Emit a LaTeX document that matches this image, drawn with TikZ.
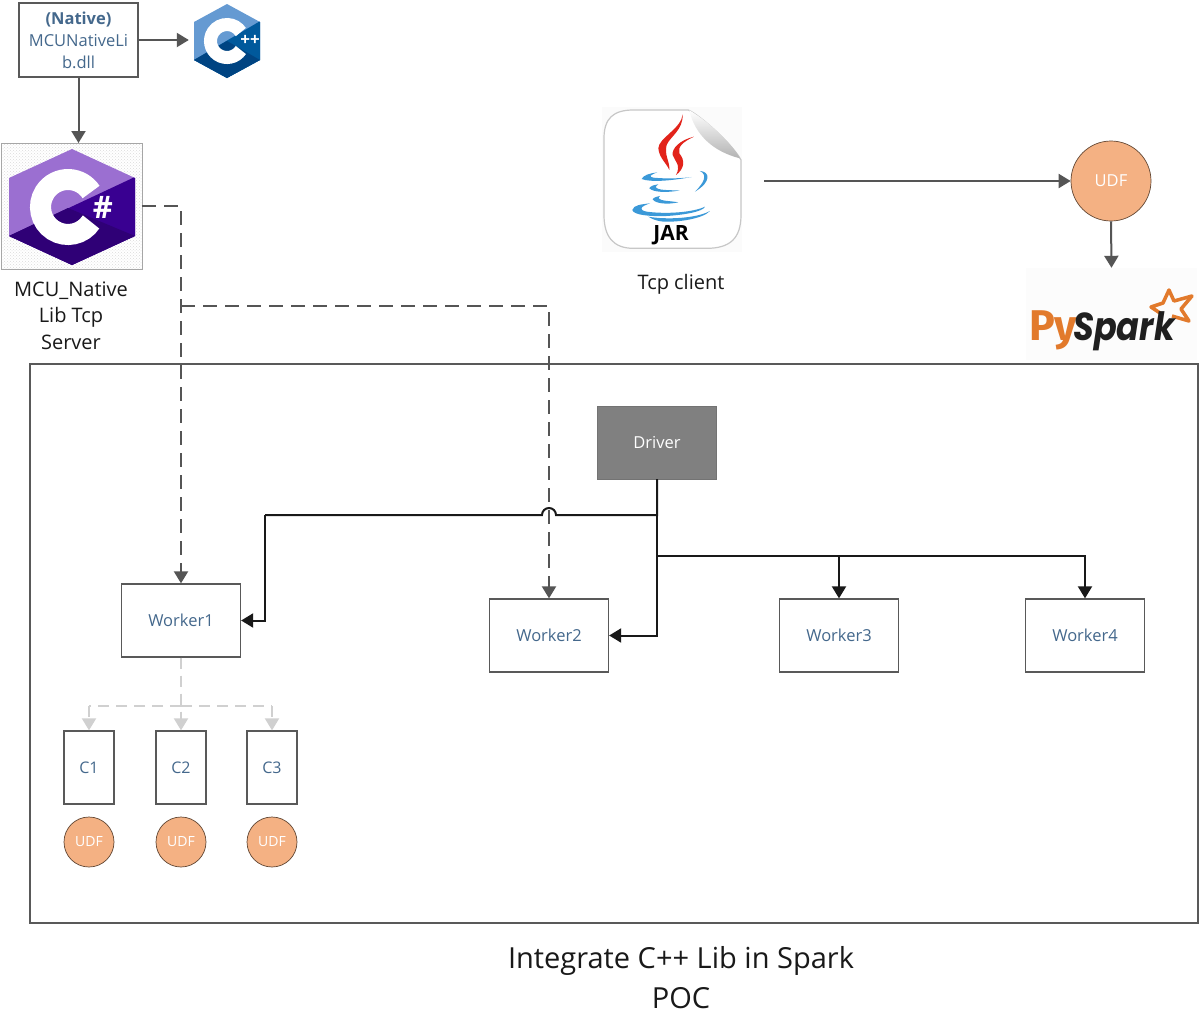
\documentclass[tikz,border=0pt]{standalone}
\usepackage{fontspec}
\setmainfont{Open Sans}
\newfontfamily\logofont{Fira Sans}
\newfontfamily\sparkfont{Poppins}
\usetikzlibrary{arrows.meta,patterns}
\definecolor{boxline}{HTML}{595959}
\definecolor{txtblue}{HTML}{44688C}
\definecolor{udffill}{HTML}{F4B183}
\definecolor{lightdash}{HTML}{D0D0D0}
\definecolor{conn}{HTML}{555555}
\definecolor{javablue}{HTML}{3B99D8}
\definecolor{javared}{HTML}{E2231A}
\definecolor{sparkorange}{HTML}{E27A2C}
\tikzset{
  wbox/.style={draw=boxline,line width=1.3pt,fill=white,text=txtblue,font=\fontsize{16.5}{20}\selectfont,inner sep=0pt,align=center},
  cbox/.style={wbox,font=\fontsize{16}{18}\selectfont},
  udf/.style={circle,draw=black!60!udffill,line width=.7pt,fill=udffill,text=white,inner sep=0pt},
  lab/.style={text=black!90,align=center,font=\fontsize{20}{26.5}\selectfont,inner sep=0pt},
  gray arrow/.style={conn,line width=2pt,-{Triangle[length=12pt,width=14pt]}},
  dash arrow/.style={conn,line width=2pt,dash pattern=on 14pt off 8pt,-{Triangle[length=12pt,width=14pt]}},
  black arrow/.style={black!90,line width=2pt,-{Triangle[length=12pt,width=14pt]}},
  black line/.style={black!90,line width=2pt},
  light arrow/.style={lightdash,line width=2pt,dash pattern=on 11pt off 7pt,-{Triangle[length=12pt,width=14pt]}},
  light line/.style={lightdash,line width=2pt,dash pattern=on 11pt off 7pt},
}
\begin{document}
\begin{tikzpicture}[x=1pt,y=-1pt]
\useasboundingbox (0,0) rectangle (1200,1034);
\fill[white] (0,0) rectangle (1200,1034);
% frame
\node[draw=boxline,line width=1.2pt,minimum width=1168pt,minimum height=559pt,inner sep=0pt] (frame) at (614,643.5) {};
% C++ logo
\begin{scope}
\clip (227,4)--(260,22)--(260,60)--(227,78)--(194,60)--(194,22)--cycle;
\fill[color={rgb,255:red,101;green,154;blue,210}] (190,0) rectangle (265,80);
\fill[color={rgb,255:red,0;green,89;blue,156}] (262,20)--(194,60)--(227,78)--(262,60)--cycle;
\fill[color={rgb,255:red,0;green,68;blue,130}] (227,41)--(194,60)--(227,82)--(260,60)--cycle;
\draw[white,line width=13pt] (227,41)+(33:16.5) arc (33:327:16.5);
\end{scope}
\node[text=white,font=\bfseries\fontsize{17}{17}\selectfont,inner sep=0pt] (plusplus) at (250,40) {++};
\node[inner sep=0pt,minimum width=76pt,minimum height=74pt] (cpp) at (227,40) {};
% C# logo
\node[draw=black!35,line width=.8pt,pattern=crosshatch dots,pattern color=black!14,minimum width=141pt,minimum height=126pt,inner sep=0pt] (csharp) at (71.5,206) {};
\begin{scope}
\clip (72,149)--(135,178)--(135,236)--(72,265)--(9,236)--(9,178)--cycle;
\fill[color={rgb,255:red,155;green,111;blue,209}] (5,145) rectangle (140,270);
\fill[color={rgb,255:red,57;green,0;blue,145}] (137,176)--(9,236)--(72,270)--(137,240)--cycle;
\fill[color={rgb,255:red,47;green,0;blue,118}] (68,208)--(9,236)--(72,270)--(135,236)--cycle;
\draw[white,line width=21pt] (68,207)+(33:27.5) arc (33:327:27.5);
\end{scope}
\node[text=white,font=\bfseries\fontsize{31}{31}\selectfont,inner sep=0pt] (sharp) at (103,207) {\#};
% Native box
\node[wbox,minimum width=119pt,minimum height=74pt,font=\fontsize{16.5}{22}\selectfont] (native) at (78.5,40) {\textcolor{txtblue}{\bfseries (Native)}\\MCUNativeLi\\b.dll};
\node[lab] (mcu) at (71,315.5) {MCU\_Native\\Lib Tcp\\Server};
% JAR logo
\begin{scope}[shift={(600,105)},x=.3333pt,y=-.3333pt]
\fill[black!1.5] (5,5) rectangle (425,440);
\fill[white,draw=black!22,line width=1.2pt] (100,15) -- (265,15) .. controls (300,30) and (400,120) .. (423,165) -- (423,330) .. controls (423,400) and (390,430) .. (320,430) -- (100,430) .. controls (40,430) and (12,395) .. (12,330) -- (12,100) .. controls (12,40) and (40,15) .. (100,15) -- cycle;
\shade[top color=white,bottom color=black!30] (268,16) .. controls (285,90) and (340,140) .. (420,160) .. controls (385,100) and (310,40) .. (268,16) -- cycle;
\fill[javared] (248,28) .. controls (245,70) and (175,100) .. (175,130) .. controls (178,160) and (200,175) .. (208,195) .. controls (210,170) and (192,150) .. (200,120) .. controls (210,95) and (250,75) .. (248,28) -- cycle;
\fill[javared] (282,95) .. controls (240,105) and (215,130) .. (218,150) .. controls (222,165) and (245,180) .. (228,210) .. controls (255,190) and (255,165) .. (238,145) .. controls (232,125) and (250,110) .. (282,95) -- cycle;
\fill[javablue] (275,216) .. controls (210,228) and (150,232) .. (125,222) .. controls (130,210) and (150,205) .. (172,202) .. controls (150,210) and (145,215) .. (160,218) .. controls (200,222) and (250,220) .. (275,216) -- cycle;
\fill[javablue] (300,198) .. controls (330,200) and (335,230) .. (285,260) .. controls (310,235) and (325,210) .. (300,198) -- cycle;
\fill[javablue] (240,256) .. controls (200,264) and (160,262) .. (148,250) .. controls (150,244) and (160,240) .. (175,238) .. controls (160,246) and (170,252) .. (185,254) .. controls (205,256) and (225,256) .. (240,256) -- cycle;
\fill[javablue] (235,292) .. controls (200,300) and (165,295) .. (158,283) .. controls (160,278) and (170,275) .. (180,273) .. controls (170,280) and (180,285) .. (195,287) .. controls (210,289) and (225,290) .. (235,292) -- cycle;
\fill[javablue] (97,315) .. controls (100,300) and (125,298) .. (150,295) .. controls (120,305) and (115,315) .. (140,320) .. controls (200,328) and (280,322) .. (315,305) .. controls (310,320) and (250,330) .. (200,333) .. controls (150,335) and (100,330) .. (97,315) -- cycle;
\fill[javablue] (145,335) .. controls (200,345) and (290,340) .. (330,318) .. controls (310,340) and (240,352) .. (190,350) .. controls (170,348) and (155,342) .. (145,335) -- cycle;
\end{scope}
\node[text=black,font=\bfseries\fontsize{21}{21}\selectfont,inner sep=0pt] (jarword) at (671,235) {JAR};
\node[inner sep=0pt,minimum width=161pt,minimum height=142pt] (jar) at (683.5,181) {};
\node[lab] (tcp) at (681,284) {Tcp client};
% UDF top
\node[udf,minimum size=80pt,font=\fontsize{16.5}{20}\selectfont] (udfT) at (1111,181) {UDF};
% PySpark logo
\node[fill=black!1.2,inner sep=0pt,minimum width=171pt,minimum height=92pt] (pyspark) at (1111.5,314) {};
\draw[sparkorange,line width=3.5pt,line join=round] (1160,313) -- (1151,307) -- (1163,303) -- (1169,290) -- (1174,301) -- (1192,296) -- (1181,309) -- (1189,321) -- (1172,316);
\node[text=sparkorange,font=\logofont\bfseries\fontsize{43}{43}\selectfont,inner sep=0pt,anchor=base west] (py) at (1029,340) {Py};
\node[text=black!88,font=\sparkfont\bfseries\itshape\fontsize{39}{39}\selectfont,inner sep=0pt,anchor=base,xscale=.86] (spark) at (1124,340) {Spark};
% Workers
\node[wbox,minimum width=119pt,minimum height=73pt] (w1) at (181,620.5) {Worker1};
\node[wbox,minimum width=119pt,minimum height=73pt] (w2) at (549,635.5) {Worker2};
\node[wbox,minimum width=119pt,minimum height=73pt] (w3) at (839,635.5) {Worker3};
\node[wbox,minimum width=119pt,minimum height=73pt] (w4) at (1085,635.5) {Worker4};
\node[draw=black!55,line width=.8pt,fill=black!50,text=white,minimum width=119pt,minimum height=73pt,inner sep=0pt,font=\fontsize{16.5}{20}\selectfont] (driver) at (657,442.5) {Driver};
% Executors
\node[cbox,minimum width=50pt,minimum height=73pt] (c1) at (89,767.5) {C1};
\node[cbox,minimum width=50pt,minimum height=73pt] (c2) at (181,767.5) {C2};
\node[cbox,minimum width=50pt,minimum height=73pt] (c3) at (272,767.5) {C3};
\node[udf,minimum size=50pt,font=\fontsize{14}{16}\selectfont] (u1) at (89,842) {UDF};
\node[udf,minimum size=50pt,font=\fontsize{14}{16}\selectfont] (u2) at (181,842) {UDF};
\node[udf,minimum size=50pt,font=\fontsize{14}{16}\selectfont] (u3) at (272,842) {UDF};
% Title
\node[text=black!90,align=center,font=\fontsize{29}{39.5}\selectfont,inner sep=0pt] (title) at (681,977.5) {Integrate C++ Lib in Spark\\POC};
% Junction coordinates
\coordinate (jd) at (181,306);
\coordinate (jb) at (657,556);
\coordinate (jw) at (181,706);
\coordinate (cross) at (549,515);
\coordinate (lc1) at (89,706);
\coordinate (lc3) at (272,706);
% Connectors
\draw[gray arrow] (native.east) -- (cpp.west);
\draw[gray arrow] (native.south) -- (78.5,143);
\draw[gray arrow] (jar.east) -- (udfT.west);
\draw[gray arrow] (udfT.south) -- (pyspark.north);
\draw[dash arrow] (csharp.east) -| (w1.north);
\draw[dash arrow] (jd) -| (w2.north);
\draw[black line] (driver.south) |- ([xshift=7pt]cross) arc (0:-180:7) -- (265,515);
\draw[black arrow] (265,515) |- (w1.east);
\draw[black arrow] (driver.south) |- (w2.east);
\draw[black arrow] (jb) -| (w3.north);
\draw[black arrow] (jb) -| (w4.north);
\draw[light arrow] (w1.south) -- (c2.north);
\draw[light line] (jw) -- (lc1);
\draw[light arrow] (lc1) -- (c1.north);
\draw[light line] (jw) -- (lc3);
\draw[light arrow] (lc3) -- (c3.north);
\end{tikzpicture}
\end{document}
